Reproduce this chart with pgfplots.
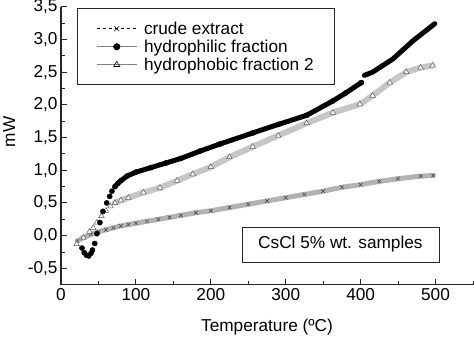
\documentclass[border=0pt]{standalone}
\usepackage{pgfplots}
\pgfplotsset{compat=1.18}
\usepackage{pgfplotstable}
\usepackage{fontspec}
\setmainfont{Liberation Sans}
\newcommand{\chartfont}{\fontsize{17.3}{20}\selectfont}

\pgfplotstableread{
x y
22 -0.08
30 -0.03
40 0.02
50 0.06
60 0.09
70 0.12
80 0.15
90 0.17
100 0.19
115 0.22
130 0.25
145 0.28
160 0.31
180 0.35
200 0.38
225 0.43
250 0.48
275 0.53
300 0.58
325 0.63
350 0.68
375 0.74
400 0.78
425 0.83
450 0.87
480 0.91
497 0.92
}\crude

\pgfplotstableread{
x y
28 -0.19
31 -0.26
34 -0.30
37 -0.31
40 -0.27
42 -0.22
45 -0.12
48 0.03
52 0.20
56 0.37
61 0.50
65 0.60
68 0.68
72 0.75
76 0.80
80 0.84
88 0.91
100 0.97
120 1.04
140 1.11
160 1.18
185 1.29
212 1.40
256 1.57
290 1.70
328 1.84
363 2.06
380 2.18
401 2.34
}\philA

\pgfplotstableread{
x y
405 2.45
416 2.50
443 2.70
470 2.98
499 3.24
}\philB

\pgfplotstableread{
x y
21 -0.13
30 -0.03
38 0.06
43 0.12
48 0.20
54 0.30
60 0.38
66 0.45
72 0.50
80 0.54
90 0.58
110 0.66
132 0.73
155 0.84
176 0.94
200 1.05
225 1.20
256 1.36
290 1.53
328 1.72
363 1.88
399 2.01
416 2.14
439 2.34
461 2.50
480 2.57
496 2.60
}\phob

\begin{document}
\begin{tikzpicture}
\begin{axis}[
  name=ax,
  scale only axis,
  width=412bp, height=278bp,
  xmin=0, xmax=550, ymin=-0.75, ymax=3.5,
  axis x line*=bottom, axis y line*=left,
  axis line style={line width=1.1pt, black!85},
  xtick={0,100,...,500},
  minor xtick={50,150,...,550},
  ytick={-0.5,0,...,3.5},
  minor ytick={-0.75,-0.25,...,3.25},
  tick align=inside,
  major tick length=6bp, minor tick length=4bp,
  tick style={line width=0.9pt, black!85},
  tick label style={font=\chartfont},
  label style={font=\chartfont},
  /pgf/number format/assume math mode=true,
  yticklabel style={/pgf/number format/.cd, use comma, fixed, fixed zerofill, precision=1},
  xticklabel style={/pgf/number format/.cd, fixed, precision=0},
  xlabel={Temperature (ºC)},
  ylabel={mW},
  xlabel style={at={(axis description cs:0.5,-0.151)}, anchor=center},
  ylabel style={at={(axis description cs:-0.126,0.55)}, anchor=center},
  clip=false,
  legend cell align=left,
  legend style={at={(rel axis cs:0.039,0.718)}, anchor=south west,
    draw=black!85, line width=0.8pt, inner xsep=19bp, inner ysep=11bp,
    font=\chartfont, row sep=0bp},
  legend image code/.code={%
    \draw[mark repeat=2,mark phase=2] plot coordinates {(0bp,0bp) (20bp,0bp) (40bp,0bp)};},
]
% legend entries
\addlegendimage{black, line width=0.6pt, dashed, mark=x, mark size=3.5bp, mark options={solid}}
\addlegendentry{\hspace{5bp}crude extract}
\addlegendimage{gray, line width=0.6pt, mark=*, mark size=3.2bp, mark options={black}}
\addlegendentry{\hspace{5bp}hydrophilic fraction}
\addlegendimage{gray, line width=0.6pt, mark=triangle, mark size=3.5bp, mark options={black}}
\addlegendentry{\hspace{5bp}hydrophobic fraction 2}

% crude extract
\addplot[forget plot, gray!60, line width=5bp, line cap=round, line join=round] table {\crude};
\addplot[forget plot, only marks, black!75, mark=x, mark size=2.6bp, line width=0.5pt] table {\crude};

% hydrophobic fraction 2
\addplot[forget plot, gray!45, line width=6bp, line cap=round, line join=round] table[restrict x to domain=70:500] {\phob};
\addplot[forget plot, only marks, black!65, mark=triangle*, mark options={fill=white}, mark size=3.2bp, line width=0.5pt] table {\phob};

% hydrophilic fraction
\addplot[forget plot, black, line width=5bp, line cap=round, line join=round] table[restrict x to domain=70:500] {\philA};
\addplot[forget plot, black, line width=5bp, line cap=round, line join=round] table {\philB};
\addplot[forget plot, only marks, black, mark=*, mark size=2.6bp] table {\philA};

\node[draw=black!85, line width=0.8pt, minimum width=197bp, minimum height=35bp, inner sep=0pt,
  font=\chartfont] at (axis cs:373,-0.136) {CsCl 5\% wt. samples};
\end{axis}
\pgfresetboundingbox
\path[use as bounding box] ([shift={(-61bp,-52.3bp)}]ax.south west) rectangle ([shift={(413bp,284.7bp)}]ax.south west);
\end{tikzpicture}
\end{document}
